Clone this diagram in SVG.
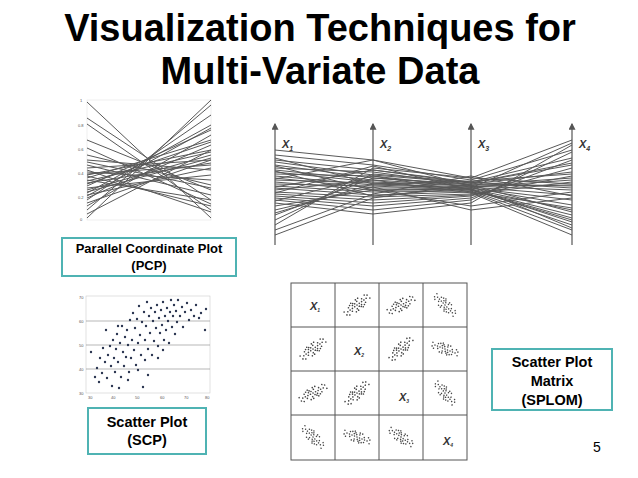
<svg xmlns="http://www.w3.org/2000/svg" width="638" height="478" viewBox="0 0 638 478">
<style>
.t{font-family:"Liberation Sans",Arial,sans-serif;font-weight:bold;fill:#000}
.box{fill:#fff;stroke:#4fb3b3;stroke-width:2}
.pl{stroke:#222;stroke-width:1;fill:none;opacity:0.75}
.ax{stroke:#555;stroke-width:1.2}
.ax2{stroke:#888;stroke-width:0.6}
.d{fill:#2a3550}
.c{fill:#444}
.xl{font-family:"Liberation Sans",Arial,sans-serif;font-style:italic;font-weight:bold;font-size:11px;fill:#333}
.sm{font-family:"Liberation Sans",Arial,sans-serif;font-size:4px;fill:#555}
</style>
<defs>
<marker id="ar" markerWidth="7" markerHeight="7" refX="5" refY="3" orient="auto" markerUnits="userSpaceOnUse" viewBox="0 0 6 6"><path d="M0,0 L6,3 L0,6 Z" fill="#555"/></marker>
<g id="cl">
<circle cx="0" cy="0" r="0.9"/><circle cx="3" cy="-1" r="0.9"/><circle cx="-3" cy="1" r="0.9"/><circle cx="6" cy="-2" r="0.9"/><circle cx="-6" cy="2" r="0.9"/><circle cx="2" cy="2" r="0.9"/><circle cx="-2" cy="-2" r="0.9"/><circle cx="9" cy="-3" r="0.9"/><circle cx="-9" cy="3" r="0.9"/><circle cx="5" cy="1" r="0.9"/><circle cx="-5" cy="-1" r="0.9"/><circle cx="12" cy="-4" r="0.9"/><circle cx="-12" cy="4" r="0.9"/><circle cx="1" cy="-4" r="0.9"/><circle cx="-1" cy="4" r="0.9"/><circle cx="7" cy="-5" r="0.9"/><circle cx="-7" cy="5" r="0.9"/><circle cx="4" cy="3" r="0.9"/><circle cx="-4" cy="-3" r="0.9"/><circle cx="10" cy="0" r="0.9"/><circle cx="-10" cy="0" r="0.9"/><circle cx="14" cy="-7" r="0.9"/><circle cx="-14" cy="7" r="0.9"/><circle cx="8" cy="2" r="0.9"/><circle cx="-8" cy="-2" r="0.9"/><circle cx="0" cy="6" r="0.9"/><circle cx="0" cy="-6" r="0.9"/><circle cx="11" cy="-8" r="0.9"/><circle cx="-11" cy="8" r="0.9"/><circle cx="3" cy="-7" r="0.9"/><circle cx="-3" cy="7" r="0.9"/><circle cx="6" cy="4" r="0.9"/><circle cx="-6" cy="-4" r="0.9"/><circle cx="16" cy="-3" r="0.9"/><circle cx="-16" cy="3" r="0.9"/>
</g>
</defs>
<rect width="638" height="478" fill="#fff"/>
<g id="title">
<text class="t" x="320" y="41" font-size="38" text-anchor="middle">Visualization Techniques for</text>
<text class="t" x="320" y="84" font-size="38" text-anchor="middle">Multi-Variate Data</text>
</g>
<g id="pcp-small">
<rect x="87" y="100" width="124" height="120" fill="#fff" stroke="#ddd" stroke-width="0.5"/>
<g class="sm"><text x="80" y="102">1</text><text x="78" y="127">0.8</text><text x="78" y="151">0.6</text><text x="78" y="175">0.4</text><text x="78" y="199">0.2</text><text x="80" y="221">0</text></g>
<g class="pl">
<line x1="87" y1="102" x2="211" y2="218"/><line x1="87" y1="118" x2="211" y2="200"/><line x1="87" y1="124" x2="211" y2="210"/><line x1="87" y1="140" x2="211" y2="190"/><line x1="87" y1="148" x2="211" y2="204"/><line x1="87" y1="155" x2="211" y2="185"/><line x1="87" y1="160" x2="211" y2="170"/><line x1="87" y1="165" x2="211" y2="195"/><line x1="87" y1="168" x2="211" y2="160"/><line x1="87" y1="172" x2="211" y2="180"/><line x1="87" y1="175" x2="211" y2="150"/><line x1="87" y1="178" x2="211" y2="140"/><line x1="87" y1="180" x2="211" y2="200"/><line x1="87" y1="183" x2="211" y2="163"/><line x1="87" y1="186" x2="211" y2="130"/><line x1="87" y1="188" x2="211" y2="175"/><line x1="87" y1="190" x2="211" y2="155"/><line x1="87" y1="193" x2="211" y2="125"/><line x1="87" y1="195" x2="211" y2="168"/><line x1="87" y1="198" x2="211" y2="145"/><line x1="87" y1="200" x2="211" y2="115"/><line x1="87" y1="203" x2="211" y2="160"/><line x1="87" y1="206" x2="211" y2="135"/><line x1="87" y1="210" x2="211" y2="105"/><line x1="87" y1="214" x2="211" y2="150"/><line x1="87" y1="218" x2="211" y2="100"/><line x1="87" y1="170" x2="211" y2="212"/><line x1="87" y1="162" x2="211" y2="188"/><line x1="87" y1="184" x2="211" y2="142"/><line x1="87" y1="192" x2="211" y2="158"/><line x1="87" y1="176" x2="211" y2="206"/><line x1="87" y1="196" x2="211" y2="128"/><line x1="87" y1="181" x2="211" y2="152"/><line x1="87" y1="174" x2="211" y2="165"/>
</g>
</g>
<g id="pcp-box">
<rect class="box" x="62" y="238" width="174" height="38"/>
<text class="t" x="149" y="253" font-size="13" text-anchor="middle">Parallel Coordinate Plot</text>
<text class="t" x="149" y="270" font-size="13" text-anchor="middle">(PCP)</text>
</g>
<g id="pcp-large">
<g class="xl"><text x="282" y="148">X<tspan font-size="7" dy="3">1</tspan></text><text x="380" y="148">X<tspan font-size="7" dy="3">2</tspan></text><text x="478" y="148">X<tspan font-size="7" dy="3">3</tspan></text><text x="579" y="148">X<tspan font-size="7" dy="3">4</tspan></text></g>
<g class="pl" stroke-width="0.8">
<polyline points="275,150 373,160 471,178 572,140"/><polyline points="275,155 373,165 471,180 572,150"/><polyline points="275,160 373,170 471,182 572,158"/><polyline points="275,162 373,175 471,183 572,165"/><polyline points="275,165 373,178 471,184 572,172"/><polyline points="275,168 373,172 471,185 572,178"/><polyline points="275,170 373,180 471,186 572,185"/><polyline points="275,172 373,182 471,186 572,190"/><polyline points="275,174 373,176 471,187 572,195"/><polyline points="275,176 373,185 471,188 572,200"/><polyline points="275,178 373,188 471,188 572,205"/><polyline points="275,180 373,183 471,189 572,210"/><polyline points="275,182 373,190 471,190 572,215"/><polyline points="275,184 373,186 471,190 572,220"/><polyline points="275,186 373,192 471,191 572,225"/><polyline points="275,188 373,195 471,192 572,230"/><polyline points="275,190 373,180 471,193 572,235"/><polyline points="275,192 373,197 471,194 572,182"/><polyline points="275,194 373,200 471,195 572,176"/><polyline points="275,196 373,203 471,196 572,168"/><polyline points="275,198 373,206 471,198 572,160"/><polyline points="275,200 373,210 471,200 572,152"/><polyline points="275,203 373,214 471,203 572,145"/><polyline points="275,206 373,190 471,206 572,192"/><polyline points="275,210 373,187 471,210 572,198"/><polyline points="275,215 373,178 471,185 572,212"/><polyline points="275,220 373,174 471,182 572,188"/><polyline points="275,225 373,168 471,178 572,184"/><polyline points="275,230 373,194 471,176 572,196"/><polyline points="275,235 373,198 471,184 572,186"/><polyline points="275,158 373,184 471,187 572,180"/><polyline points="275,166 373,190 471,189 572,222"/><polyline points="275,187 373,170 471,183 572,163"/><polyline points="275,201 373,176 471,192 572,208"/><polyline points="275,213 373,184 471,181 572,174"/><polyline points="275,179 373,160 471,186 572,228"/><polyline points="275,171 373,196 471,188 572,143"/><polyline points="275,193 373,166 471,190 572,218"/>
</g>
<line class="ax" x1="275" y1="245" x2="275" y2="124" marker-end="url(#ar)"/>
<line class="ax" x1="373" y1="245" x2="373" y2="124" marker-end="url(#ar)"/>
<line class="ax" x1="471" y1="245" x2="471" y2="124" marker-end="url(#ar)"/>
<line class="ax" x1="572" y1="245" x2="572" y2="124" marker-end="url(#ar)"/>
</g>
<g id="scp-plot">
<rect x="86" y="296" width="124" height="97" fill="#fff" stroke="#ccc" stroke-width="0.6"/>
<g class="ax2"><line x1="86" y1="321" x2="210" y2="321"/><line x1="86" y1="345" x2="210" y2="345"/><line x1="86" y1="369" x2="210" y2="369"/></g>
<g class="sm"><text x="79" y="299">70</text><text x="79" y="323">60</text><text x="79" y="347">50</text><text x="79" y="371">40</text><text x="79" y="395">30</text><text x="88" y="399">30</text><text x="111" y="399">40</text><text x="135" y="399">50</text><text x="160" y="399">60</text><text x="184" y="399">70</text><text x="205" y="399">80</text></g>
<g class="d">
<circle cx="91" cy="352" r="1.2"/><circle cx="95" cy="377" r="1.2"/><circle cx="97" cy="368" r="1.2"/><circle cx="99" cy="382" r="1.2"/><circle cx="100" cy="358" r="1.2"/><circle cx="102" cy="373" r="1.2"/><circle cx="103" cy="348" r="1.2"/><circle cx="105" cy="362" r="1.2"/><circle cx="106" cy="330" r="1.2"/><circle cx="107" cy="378" r="1.2"/><circle cx="108" cy="355" r="1.2"/><circle cx="110" cy="346" r="1.2"/><circle cx="111" cy="366" r="1.2"/><circle cx="112" cy="386" r="1.2"/><circle cx="113" cy="340" r="1.2"/><circle cx="114" cy="358" r="1.2"/><circle cx="115" cy="372" r="1.2"/><circle cx="116" cy="349" r="1.2"/><circle cx="117" cy="334" r="1.2"/><circle cx="118" cy="362" r="1.2"/><circle cx="119" cy="388" r="1.2"/><circle cx="120" cy="343" r="1.2"/><circle cx="121" cy="377" r="1.2"/><circle cx="122" cy="326" r="1.2"/><circle cx="123" cy="352" r="1.2"/><circle cx="124" cy="366" r="1.2"/><circle cx="125" cy="337" r="1.2"/><circle cx="126" cy="357" r="1.2"/><circle cx="127" cy="330" r="1.2"/><circle cx="128" cy="345" r="1.2"/><circle cx="129" cy="372" r="1.2"/><circle cx="130" cy="320" r="1.2"/><circle cx="131" cy="358" r="1.2"/><circle cx="132" cy="340" r="1.2"/><circle cx="133" cy="313" r="1.2"/><circle cx="134" cy="350" r="1.2"/><circle cx="135" cy="328" r="1.2"/><circle cx="136" cy="365" r="1.2"/><circle cx="137" cy="319" r="1.2"/><circle cx="138" cy="343" r="1.2"/><circle cx="139" cy="306" r="1.2"/><circle cx="140" cy="335" r="1.2"/><circle cx="141" cy="355" r="1.2"/><circle cx="142" cy="322" r="1.2"/><circle cx="143" cy="387" r="1.2"/><circle cx="144" cy="312" r="1.2"/><circle cx="145" cy="340" r="1.2"/><circle cx="146" cy="326" r="1.2"/><circle cx="147" cy="302" r="1.2"/><circle cx="148" cy="349" r="1.2"/><circle cx="149" cy="316" r="1.2"/><circle cx="150" cy="333" r="1.2"/><circle cx="151" cy="308" r="1.2"/><circle cx="152" cy="355" r="1.2"/><circle cx="153" cy="321" r="1.2"/><circle cx="154" cy="341" r="1.2"/><circle cx="155" cy="312" r="1.2"/><circle cx="156" cy="328" r="1.2"/><circle cx="157" cy="305" r="1.2"/><circle cx="158" cy="346" r="1.2"/><circle cx="159" cy="318" r="1.2"/><circle cx="160" cy="333" r="1.2"/><circle cx="161" cy="310" r="1.2"/><circle cx="162" cy="325" r="1.2"/><circle cx="163" cy="302" r="1.2"/><circle cx="164" cy="340" r="1.2"/><circle cx="165" cy="316" r="1.2"/><circle cx="166" cy="330" r="1.2"/><circle cx="167" cy="308" r="1.2"/><circle cx="168" cy="321" r="1.2"/><circle cx="169" cy="343" r="1.2"/><circle cx="170" cy="312" r="1.2"/><circle cx="171" cy="300" r="1.2"/><circle cx="172" cy="327" r="1.2"/><circle cx="173" cy="316" r="1.2"/><circle cx="174" cy="305" r="1.2"/><circle cx="175" cy="334" r="1.2"/><circle cx="176" cy="311" r="1.2"/><circle cx="177" cy="322" r="1.2"/><circle cx="178" cy="300" r="1.2"/><circle cx="180" cy="316" r="1.2"/><circle cx="182" cy="307" r="1.2"/><circle cx="183" cy="327" r="1.2"/><circle cx="185" cy="312" r="1.2"/><circle cx="187" cy="303" r="1.2"/><circle cx="189" cy="320" r="1.2"/><circle cx="191" cy="310" r="1.2"/><circle cx="194" cy="316" r="1.2"/><circle cx="196" cy="305" r="1.2"/><circle cx="199" cy="318" r="1.2"/><circle cx="201" cy="313" r="1.2"/><circle cx="205" cy="330" r="1.2"/><circle cx="206" cy="309" r="1.2"/><circle cx="145" cy="360" r="1.2"/><circle cx="138" cy="370" r="1.2"/><circle cx="128" cy="380" r="1.2"/><circle cx="148" cy="375" r="1.2"/><circle cx="158" cy="358" r="1.2"/><circle cx="163" cy="350" r="1.2"/><circle cx="118" cy="326" r="1.2"/>
</g>
</g>
<g id="scp-box">
<rect class="box" x="88" y="408" width="118" height="46"/>
<text class="t" x="147" y="427" font-size="14.5" text-anchor="middle">Scatter Plot</text>
<text class="t" x="147" y="445" font-size="14.5" text-anchor="middle">(SCP)</text>
</g>
<g id="splom">
<g fill="none" stroke="#555" stroke-width="1">
<rect x="291" y="283" width="176" height="177"/>
<line x1="335" y1="283" x2="335" y2="460"/><line x1="379" y1="283" x2="379" y2="460"/><line x1="423" y1="283" x2="423" y2="460"/>
<line x1="291" y1="327" x2="467" y2="327"/><line x1="291" y1="371" x2="467" y2="371"/><line x1="291" y1="415" x2="467" y2="415"/>
</g>
<g class="xl" font-size="8"><text x="310" y="310">X<tspan font-size="5" dy="2">1</tspan></text><text x="354" y="355">X<tspan font-size="5" dy="2">2</tspan></text><text x="399" y="401">X<tspan font-size="5" dy="2">3</tspan></text><text x="443" y="445">X<tspan font-size="5" dy="2">4</tspan></text></g>
<g class="c">
<use href="#cl" transform="translate(357,305) rotate(-18) scale(0.9)"/>
<use href="#cl" transform="translate(401,305) rotate(-8) scale(0.9)"/>
<use href="#cl" transform="translate(445,305) rotate(65) scale(0.85)"/>
<use href="#cl" transform="translate(313,349) rotate(-18) scale(0.9)"/>
<use href="#cl" transform="translate(401,349) rotate(-25) scale(0.9)"/>
<use href="#cl" transform="translate(445,349) rotate(40) scale(0.85)"/>
<use href="#cl" transform="translate(313,393) rotate(-8) scale(0.9)"/>
<use href="#cl" transform="translate(357,393) rotate(-25) scale(0.9)"/>
<use href="#cl" transform="translate(445,393) rotate(70) scale(0.85)"/>
<use href="#cl" transform="translate(313,437) rotate(65) scale(0.85)"/>
<use href="#cl" transform="translate(357,437) rotate(40) scale(0.85)"/>
<use href="#cl" transform="translate(401,437) rotate(55) scale(0.85)"/>
</g>
</g>
<g id="splom-box">
<rect class="box" x="492" y="349" width="120" height="61"/>
<text class="t" x="552" y="367" font-size="14.5" text-anchor="middle">Scatter Plot</text>
<text class="t" x="552" y="386" font-size="14.5" text-anchor="middle">Matrix</text>
<text class="t" x="552" y="405" font-size="14.5" text-anchor="middle">(SPLOM)</text>
</g>
<text x="597" y="452" font-family="Liberation Sans,Arial,sans-serif" font-size="14" text-anchor="middle">5</text>
</svg>
